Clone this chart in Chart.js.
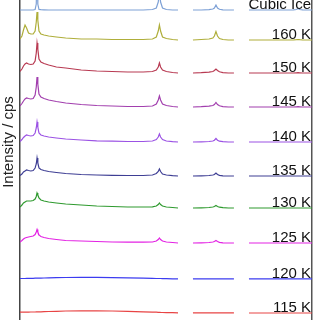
<!DOCTYPE html>
<html>
<head>
<meta charset="utf-8">
<script src="https://cdn.jsdelivr.net/npm/chart.js@4"></script>
<style>
  html, body { margin: 0; padding: 0; width: 320px; height: 320px; overflow: hidden; background: #fff; }
  #wrap { position: absolute; left: 0; top: -46px; width: 320px; height: 376px; }
</style>
</head>
<body>
<div id="wrap"><canvas id="xrd"></canvas></div>
<script>
// XRD patterns of ice, stacked (2θ in degrees, intensity in cps above each trace's baseline)
const twoTheta = [22.1, 22.35, 22.55, 22.75, 22.95, 23.2, 23.5, 23.8, 24.05, 24.2, 24.3, 24.4, 24.55, 24.8, 25.2, 25.8, 26.8, 28.0, 30.0, 32.0, 34.0, 36.0, 38.0, 39.2, 39.7, 39.95, 40.1, 40.25, 40.5, 41.0, 41.8, 42.5,
  43.5,
  44.43, 45.5, 46.5, 47.0, 47.2, 47.4, 47.6, 47.85, 48.3, 49.0, 49.72,
  50.7,
  51.66, 53.0, 55.0, 56.5, 57.4, 57.8, 58.0, 58.2, 58.6, 59.2, 59.8];

const names = ['Cubic Ice', '160 K', '150 K', '145 K', '140 K', '135 K', '130 K', '125 K', '120 K', '115 K'];
const offsets = [3200, 2900, 2570, 2230, 1880, 1540, 1220, 870, 510, 170];
const colors = ['#7ea1d6', '#afae3a', '#b83a52', '#a23fae', '#9b52e4', '#3e3e94', '#2f9a2f', '#e322e3', '#3c3cf0', '#e84444'];

const cubicIce = [0,0,0,0,0,0,0,0,5,60,400,60,5,3,2,0,0,0,0,0,0,0,0,5,20,80,180,80,20,5,0,0, null, 0,0,3,10,20,50,20,7,2,0,0, null, 0,0,0,0,2,5,15,5,2,0,0];
const k160 = [10,40,100,150,120,70,60,60,90,180,280,200,90,60,50,40,30,20,10,10,5,5,5,10,30,90,150,90,30,15,5,0, null, 0,5,10,20,40,85,40,15,5,0,0, null, 0,0,0,0,0,3,5,3,0,0,0];
const k150 = [15,40,70,90,100,90,85,90,120,200,300,240,140,110,95,80,60,50,30,20,15,10,10,15,30,60,100,60,30,15,5,0, null, 0,3,8,15,25,40,25,12,4,0,0, null, 0,0,0,0,0,2,3,2,0,0,0];
const k145 = [10,35,60,80,90,85,80,85,120,200,300,230,130,100,85,70,55,40,25,15,10,5,5,10,30,70,110,70,30,15,5,0, null, 0,3,8,15,25,45,25,12,4,0,0, null, 0,0,0,0,0,2,3,2,0,0,0];
const k140 = [5,25,45,60,70,65,60,65,90,140,200,150,90,70,60,50,40,30,20,12,8,5,5,10,25,50,80,50,25,10,3,0, null, 0,2,5,10,18,35,18,8,3,0,0, null, 0,0,0,0,0,0,0,0,0,0,0];
const k135 = [5,20,40,50,60,55,50,55,80,120,180,130,80,65,55,45,35,25,15,10,7,5,5,10,25,45,70,45,20,10,3,0, null, 0,2,5,10,15,30,15,7,2,0,0, null, 0,0,0,0,0,0,0,0,0,0,0];
const k130 = [10,30,50,60,70,70,70,75,90,115,150,130,100,80,70,60,50,40,30,20,15,10,10,12,20,35,50,35,20,10,5,0, null, 0,2,5,10,15,25,15,8,3,0,0, null, 0,0,0,0,0,0,0,0,0,0,0];
const k125 = [10,25,40,50,55,60,65,70,85,110,135,110,80,65,55,45,35,25,20,15,10,8,8,10,20,35,50,35,20,10,5,0, null, 0,2,5,10,15,25,15,7,2,0,0, null, 0,0,0,0,0,0,0,0,0,0,0];
const k120 = [5,5,5,5,6,6,7,7,8,8,8,8,9,9,10,11,13,15,16,16,14,11,8,6,5,5,5,5,4,3,2,1, null, 1,1,1,1,1,1,1,1,1,1,1, null, 1,1,1,1,1,1,1,1,1,1,1];
const k115 = [8,8,8,8,9,9,10,10,10,11,11,11,12,12,13,15,17,20,22,22,20,16,12,9,8,7,7,6,5,4,3,2, null, 1,1,1,1,1,1,1,1,1,1,1, null, 0,0,0,0,0,0,0,0,0,0,0];

const series = [cubicIce, k160, k150, k145, k140, k135, k130, k125, k120, k115];

Chart.defaults.font.family = "'Liberation Sans', Arial, sans-serif";

// labels sitting on the right end of each trace
const traceLabels = {
  id: 'traceLabels',
  afterDatasetsDraw(chart) {
    const { ctx, chartArea, scales: { y } } = chart;
    ctx.save();
    ctx.font = "15px 'Liberation Sans', Arial, sans-serif";
    ctx.fillStyle = '#111';
    ctx.textAlign = 'right';
    ctx.textBaseline = 'alphabetic';
    names.forEach((n, i) => {
      ctx.fillText(n, chartArea.right - 1, y.getPixelForValue(offsets[i]) - 1.5);
    });
    ctx.restore();
  }
};

new Chart(document.getElementById('xrd'), {
  type: 'line',
  data: {
    datasets: series.map((s, i) => ({
      label: names[i],
      data: twoTheta.map((t, j) => ({ x: t, y: s[j] === null ? null : s[j] + offsets[i] })),
      borderColor: colors[i],
      borderWidth: 1.2,
      pointRadius: 0,
      tension: 0,
      spanGaps: false
    }))
  },
  options: {
    responsive: true,
    maintainAspectRatio: false,
    animation: false,
    layout: { padding: 0 },
    plugins: { legend: { display: false }, tooltip: { enabled: false } },
    scales: {
      x: { type: 'linear', min: 22.1, max: 59.8, display: false },
      y: {
        min: 0, max: 3760,
        ticks: { display: false },
        grid: { display: false, drawTicks: false },
        border: { display: true, color: '#444', width: 1.5 },
        title: { display: true, text: 'Intensity / cps', color: '#222', font: { size: 15 }, padding: { top: 0, bottom: 0 } },
        afterFit: (scale) => { scale.width = 20; }
      },
      y2: {
        position: 'right',
        min: 0, max: 1,
        ticks: { display: false },
        grid: { display: false, drawTicks: false },
        border: { display: true, color: '#555', width: 1.5 },
        afterFit: (scale) => { scale.width = 8; }
      }
    }
  },
  plugins: [traceLabels]
});
</script>
</body>
</html>
